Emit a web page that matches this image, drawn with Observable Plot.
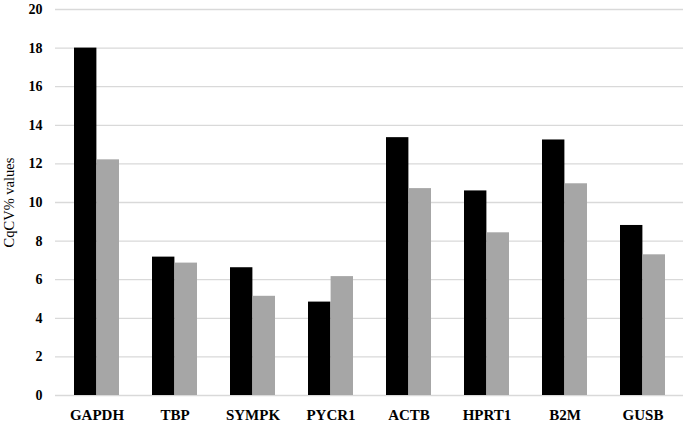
<!DOCTYPE html>
<html>
<head>
<meta charset="utf-8">
<script src="https://cdn.jsdelivr.net/npm/d3@7"></script>
<script src="https://cdn.jsdelivr.net/npm/@observablehq/plot@0.6"></script>
<style>
  html, body { margin: 0; padding: 0; background: #fff; }
  .cq text { fill: #000; }
  .cq [aria-label="y-axis tick label"] { font-size: 14px; font-weight: bold; }
  .cq [aria-label="x-axis tick label"] { font-size: 15px; font-weight: bold; }
  .cq [aria-label="y-axis label"] { font-size: 14.5px; font-weight: normal; }
</style>
</head>
<body>
<div id="chart"></div>
<script>
const genes = ["GAPDH", "TBP", "SYMPK", "PYCR1", "ACTB", "HPRT1", "B2M", "GUSB"];
const seriesA = [18.0, 7.17, 6.62, 4.84, 13.36, 10.6, 13.24, 8.81];
const seriesB = [12.21, 6.86, 5.14, 6.16, 10.72, 8.43, 10.97, 7.29];
const yTicks = [0, 2, 4, 6, 8, 10, 12, 14, 16, 18, 20];

const dataA = genes.map((g, i) => ({gene: g, value: seriesA[i]}));
const dataB = genes.map((g, i) => ({gene: g, value: seriesB[i]}));

const W = 685, H = 425;
const mL = 55, mR = 2, mT = 9, mB = 30;
const pad = 0.424;
const bw = (W - mL - mR) / genes.length * (1 - pad);
const half = bw / 2;

const chart = Plot.plot({
  className: "cq",
  width: W,
  height: H,
  marginLeft: mL,
  marginRight: mR,
  marginTop: mT,
  marginBottom: mB,
  style: {fontFamily: "'Liberation Serif', 'Times New Roman', serif", background: "#fff", fontSize: "14px"},
  x: {domain: genes, paddingInner: pad, paddingOuter: pad / 2, label: null},
  y: {domain: [0, 20], label: null},
  marks: [
    Plot.gridY(yTicks, {stroke: "#d9d9d9", strokeOpacity: 1, strokeWidth: 1.3}),
    Plot.barY(dataA, {x: "gene", y: "value", fill: "#000", insetRight: half}),
    Plot.barY(dataB, {x: "gene", y: "value", fill: "#a6a6a6", insetLeft: half}),
    Plot.axisY({ticks: yTicks, tickSize: 0, tickPadding: 13,
      label: "CqCV% values", labelAnchor: "center", labelArrow: "none", labelOffset: 52}),
    Plot.axisX({tickSize: 0, tickPadding: 14, label: null})
  ]
});
document.getElementById("chart").appendChild(chart);
</script>
</body>
</html>
